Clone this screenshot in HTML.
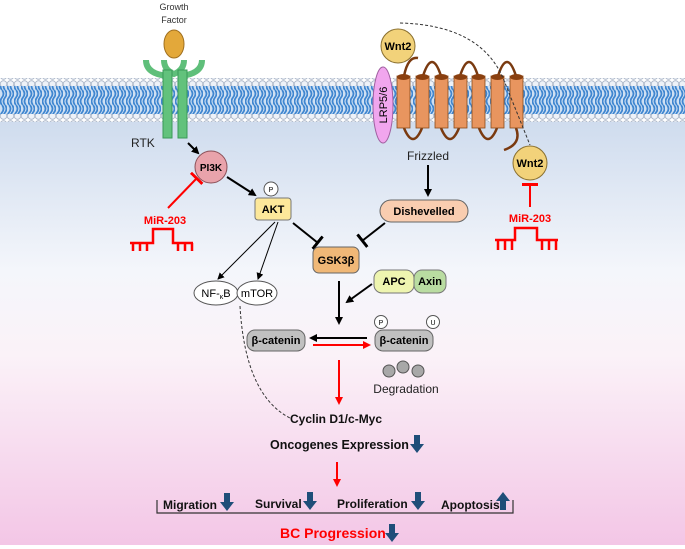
<!DOCTYPE html>
<html><head><meta charset="utf-8"><style>
html,body{margin:0;padding:0;background:#fff}
svg{display:block}
text{font-family:"Liberation Sans",sans-serif}
.b{font-weight:bold}
</style></head><body>
<svg width="685" height="549" viewBox="0 0 685 549" xmlns="http://www.w3.org/2000/svg">
<defs>
<linearGradient id="bg" x1="0" y1="0" x2="0" y2="1">
<stop offset="0" stop-color="#cfdcee"/>
<stop offset="0.35" stop-color="#f4f6fb"/>
<stop offset="0.55" stop-color="#fbf2f8"/>
<stop offset="1" stop-color="#f3c6e6"/>
</linearGradient>
<pattern id="heads" width="7" height="8" patternUnits="userSpaceOnUse">
<circle cx="3.5" cy="4" r="3.3" fill="#eef2f8" stroke="#a8b4c6" stroke-width="0.8"/>
</pattern>
<pattern id="tails" width="7" height="15" patternUnits="userSpaceOnUse">
<path d="M2 0 q3 3.75 0 7.5 q-3 3.75 0 7.5 M5 0 q3 3.75 0 7.5 q-3 3.75 0 7.5" stroke="#3f86d0" stroke-width="1.8" fill="none"/>
</pattern>
<marker id="ab" markerWidth="8" markerHeight="8" refX="6" refY="4" orient="auto" markerUnits="userSpaceOnUse"><path d="M0,0 L8,4 L0,8 z" fill="#000"/></marker>
<marker id="ar" markerWidth="8" markerHeight="8" refX="6" refY="4" orient="auto" markerUnits="userSpaceOnUse"><path d="M0,0 L8,4 L0,8 z" fill="#f00"/></marker>
<marker id="ab2" markerWidth="7" markerHeight="7" refX="6" refY="3.5" orient="auto" markerUnits="userSpaceOnUse"><path d="M0,0 L7,3.5 L0,7 z" fill="#000"/></marker>
<marker id="tb" markerWidth="4" markerHeight="16" refX="2" refY="8" orient="auto" markerUnits="userSpaceOnUse"><rect x="0" y="0" width="3" height="16" fill="#000"/></marker>
<marker id="tr" markerWidth="4" markerHeight="16" refX="2" refY="8" orient="auto" markerUnits="userSpaceOnUse"><rect x="0" y="0" width="3" height="16" fill="#f00"/></marker>
<g id="bdn"><path d="M-3,-9 h6 v9 h4 l-7,9 l-7,-9 h4 z" fill="#1f4e79"/></g>
<g id="bup"><path d="M-3,9 h6 v-9 h4 l-7,-9 l-7,9 h4 z" fill="#1f4e79"/></g>
</defs>
<rect x="0" y="122" width="685" height="423" fill="url(#bg)"/>
<!-- membrane -->
<rect x="0" y="86" width="685" height="30" fill="#cfe0f3"/>
<rect x="0" y="86" width="685" height="30" fill="url(#tails)"/>
<rect x="0" y="78" width="685" height="8" fill="url(#heads)"/>
<rect x="0" y="114" width="685" height="8" fill="url(#heads)"/>
<!-- Growth factor / RTK -->
<text x="174" y="10" font-size="9" text-anchor="middle" fill="#333">Growth</text>
<text x="174" y="23" font-size="9" text-anchor="middle" fill="#333">Factor</text>
<ellipse cx="174" cy="44" rx="10" ry="14" fill="#e3a83a" stroke="#a07020"/>
<path d="M146,60 q0,14 22,16 M202,60 q0,14 -22,16" stroke="#5fbf7a" stroke-width="6" fill="none"/>
<path d="M164,60 q0,10 10,14 q10,-4 10,-14" stroke="#5fbf7a" stroke-width="6" fill="none"/>
<rect x="163" y="70" width="9" height="68" fill="#62c27c" stroke="#3a9a58"/>
<rect x="178" y="70" width="9" height="68" fill="#62c27c" stroke="#3a9a58"/>
<text x="131" y="147" font-size="12" fill="#222">RTK</text>
<line x1="188" y1="143" x2="198" y2="153" stroke="#000" stroke-width="2" marker-end="url(#ab)"/>
<circle cx="211" cy="167" r="16" fill="#e9a3ab" stroke="#8a5058"/>
<text x="211" y="171" font-size="10" class="b" text-anchor="middle">PI3K</text>
<line x1="227" y1="177" x2="255" y2="195" stroke="#000" stroke-width="2" marker-end="url(#ab)"/>
<!-- left miR -->
<line x1="168" y1="208" x2="197" y2="178" stroke="#f00" stroke-width="2" marker-end="url(#tr)"/>
<text x="165" y="224" font-size="11" class="b" fill="#f00" text-anchor="middle">MiR-203</text>
<path d="M130,243 H153 V229 H173 V243 H193 M133,243 V251 M140,243 V251 M147,243 V251 M178,243 V251 M185,243 V251 M192,243 V251" stroke="#f00" stroke-width="2.5" fill="none"/>
<!-- AKT -->
<rect x="255" y="198" width="36" height="22" rx="3" fill="#fde89a" stroke="#777"/>
<text x="273" y="213" font-size="11" class="b" text-anchor="middle">AKT</text>
<circle cx="271" cy="189" r="7" fill="#fff" stroke="#555"/>
<text x="271" y="192" font-size="7" text-anchor="middle">P</text>
<line x1="293" y1="223" x2="318" y2="243" stroke="#000" stroke-width="2" marker-end="url(#tb)"/>
<line x1="275" y1="222" x2="218" y2="279" stroke="#000" stroke-width="1" marker-end="url(#ab2)"/>
<line x1="278" y1="222" x2="258" y2="279" stroke="#000" stroke-width="1" marker-end="url(#ab2)"/>
<ellipse cx="216" cy="293" rx="22" ry="12" fill="#fff" stroke="#555"/>
<text x="216" y="297" font-size="11" text-anchor="middle">NF-<tspan font-size="7" dy="2">κ</tspan><tspan dy="-2">B</tspan></text>
<ellipse cx="257" cy="293" rx="20" ry="12" fill="#fff" stroke="#555"/>
<text x="257" y="297" font-size="11" text-anchor="middle">mTOR</text>
<path d="M240,306 Q245,395 290,418" stroke="#333" stroke-width="1" stroke-dasharray="3,2" fill="none"/>
<!-- GSK -->
<rect x="313" y="247" width="46" height="26" rx="6" fill="#f0b877" stroke="#666"/>
<text x="336" y="264" font-size="11" class="b" text-anchor="middle">GSK3β</text>
<!-- Frizzled -->
<g stroke="#7a3a10" stroke-width="2.5" fill="none">
<path d="M404,76 q4,-20 14,-18 M423,76 q9,-28 18,0 M460,76 q9,-28 18,0 M498,76 q9,-28 18,0"/>
<path d="M404,128 q9,22 18,0 M441,128 q9,22 18,0 M479,128 q9,22 18,0 M516,128 q6,16 -12,22"/>
</g>
<g fill="#e8955f" stroke="#8a4a1a" stroke-width="0.8">
<rect x="397" y="76" width="13" height="52"/><rect x="416" y="76" width="13" height="52"/><rect x="435" y="76" width="13" height="52"/><rect x="454" y="76" width="13" height="52"/><rect x="472" y="76" width="13" height="52"/><rect x="491" y="76" width="13" height="52"/><rect x="510" y="76" width="13" height="52"/>
</g>
<g fill="#8a4010"><ellipse cx="403.5" cy="77" rx="6.5" ry="3"/><ellipse cx="422.5" cy="77" rx="6.5" ry="3"/><ellipse cx="441.5" cy="77" rx="6.5" ry="3"/><ellipse cx="460.5" cy="77" rx="6.5" ry="3"/><ellipse cx="478.5" cy="77" rx="6.5" ry="3"/><ellipse cx="497.5" cy="77" rx="6.5" ry="3"/><ellipse cx="516.5" cy="77" rx="6.5" ry="3"/></g>
<ellipse cx="383" cy="105" rx="10" ry="38" fill="#f1a6ee" stroke="#a060a0"/>
<text transform="translate(387,105) rotate(-90)" font-size="11" text-anchor="middle">LRP5/6</text>
<circle cx="398" cy="46" r="17" fill="#f2d27a" stroke="#8a7030"/>
<text x="398" y="50" font-size="11" class="b" text-anchor="middle">Wnt2</text>
<path d="M400,23 Q480,25 503,78 L530,145" stroke="#333" stroke-width="1" stroke-dasharray="3,2" fill="none"/>
<circle cx="530" cy="163" r="17" fill="#f2d27a" stroke="#8a7030"/>
<text x="530" y="167" font-size="11" class="b" text-anchor="middle">Wnt2</text>
<text x="428" y="160" font-size="12" text-anchor="middle" fill="#222">Frizzled</text>
<line x1="428" y1="165" x2="428" y2="195" stroke="#000" stroke-width="2" marker-end="url(#ab)"/>
<rect x="380" y="200" width="88" height="22" rx="11" fill="#f9cdb0" stroke="#666"/>
<text x="424" y="215" font-size="11" class="b" text-anchor="middle">Dishevelled</text>
<line x1="385" y1="223" x2="362" y2="241" stroke="#000" stroke-width="2" marker-end="url(#tb)"/>
<!-- right miR -->
<line x1="530" y1="207" x2="530" y2="184" stroke="#f00" stroke-width="2" marker-end="url(#tr)"/>
<text x="530" y="222" font-size="11" class="b" fill="#f00" text-anchor="middle">MiR-203</text>
<path d="M495,240 H515 V228 H537 V240 H558 M498,240 V250 M505,240 V250 M512,240 V250 M542,240 V250 M549,240 V250 M556,240 V250" stroke="#f00" stroke-width="2.5" fill="none"/>
<!-- APC/Axin -->
<rect x="374" y="270" width="40" height="23" rx="8" fill="#eef5b0" stroke="#777"/>
<text x="394" y="285" font-size="11" class="b" text-anchor="middle">APC</text>
<rect x="414" y="270" width="32" height="23" rx="8" fill="#b9dca1" stroke="#777"/>
<text x="430" y="285" font-size="11" class="b" text-anchor="middle">Axin</text>
<line x1="372" y1="284" x2="347" y2="302" stroke="#000" stroke-width="2" marker-end="url(#ab)"/>
<line x1="339" y1="281" x2="339" y2="323" stroke="#000" stroke-width="2" marker-end="url(#ab)"/>
<!-- beta catenin -->
<rect x="247" y="330" width="58" height="21" rx="8" fill="#c0c0c0" stroke="#666"/>
<text x="276" y="344" font-size="11" class="b" text-anchor="middle">β-catenin</text>
<rect x="375" y="330" width="58" height="21" rx="8" fill="#c0c0c0" stroke="#666"/>
<text x="404" y="344" font-size="11" class="b" text-anchor="middle">β-catenin</text>
<circle cx="381" cy="322" r="6.5" fill="#fff" stroke="#555"/><text x="381" y="325" font-size="7" text-anchor="middle">P</text>
<circle cx="433" cy="322" r="6.5" fill="#fff" stroke="#555"/><text x="433" y="325" font-size="7" text-anchor="middle">U</text>
<line x1="367" y1="338" x2="311" y2="338" stroke="#000" stroke-width="2" marker-end="url(#ab)"/>
<line x1="313" y1="345" x2="369" y2="345" stroke="#f00" stroke-width="2" marker-end="url(#ar)"/>
<g fill="#a8a8a8" stroke="#555"><circle cx="389" cy="371" r="6"/><circle cx="403" cy="367" r="6"/><circle cx="418" cy="371" r="6"/></g>
<text x="406" y="393" font-size="12" text-anchor="middle" fill="#222">Degradation</text>
<line x1="339" y1="360" x2="339" y2="403" stroke="#f00" stroke-width="2" marker-end="url(#ar)"/>
<text x="290" y="423" font-size="12" class="b" fill="#111">Cyclin D1/c-Myc</text>
<text x="270" y="449" font-size="12.5" class="b" fill="#111">Oncogenes Expression</text>
<use href="#bdn" x="417" y="444"/>
<line x1="337" y1="462" x2="337" y2="485" stroke="#f00" stroke-width="2" marker-end="url(#ar)"/>
<path d="M157,500 V513 H513 V500" stroke="#333" stroke-width="1.2" fill="none"/>
<text x="163" y="509" font-size="12" class="b" fill="#111">Migration</text><use href="#bdn" x="227" y="502"/>
<text x="255" y="508" font-size="12" class="b" fill="#111">Survival</text><use href="#bdn" x="310" y="501"/>
<text x="337" y="508" font-size="12" class="b" fill="#111">Proliferation</text><use href="#bdn" x="418" y="501"/>
<text x="441" y="509" font-size="12" class="b" fill="#111">Apoptosis</text><use href="#bup" x="503" y="501"/>
<text x="280" y="538" font-size="14" class="b" fill="#f00">BC Progression</text>
<use href="#bdn" x="392" y="533"/>
</svg>
</body></html>
